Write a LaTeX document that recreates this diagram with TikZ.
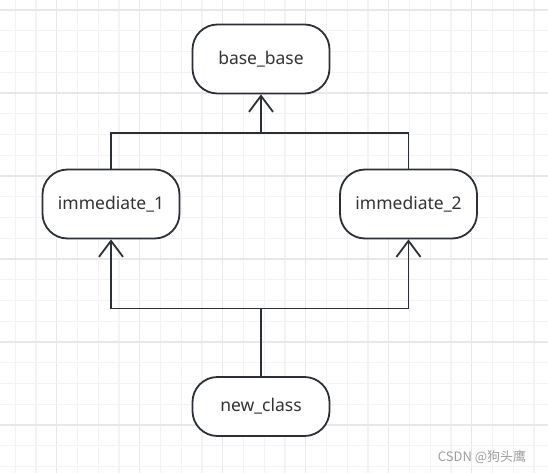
\documentclass[tikz,border=0pt]{standalone}
\usepackage{fontspec}
\setmainfont{Noto Sans}
\newfontfamily\cjkfont{Noto Sans CJK SC}
\usetikzlibrary{arrows.meta}
\definecolor{edgecol}{HTML}{2B3036}
\definecolor{txtcol}{HTML}{333333}
\definecolor{gridminor}{HTML}{F3F3F3}
\definecolor{gridmajor}{HTML}{E8E8E8}
\definecolor{wmcol}{HTML}{9E9E9E}
\tikzset{
  pill/.style={draw=edgecol, line width=1.8pt, fill=white, rounded corners=25pt,
    minimum width=137pt, minimum height=69pt, inner sep=0pt,
    text=txtcol, font=\fontsize{17.5pt}{20pt}\selectfont},
  conn/.style={draw=edgecol, line width=1.8pt},
  arr/.style={conn, -{Straight Barb[length=16pt,width=24pt,line width=1.8pt]}},
  minorline/.style={draw=gridminor, line width=1.1pt},
  majorline/.style={draw=gridmajor, line width=1.5pt},
}
\begin{document}
\begin{tikzpicture}[x=1pt,y=-1pt]
\useasboundingbox (0,0) rectangle (548,473);
\fill[white] (0,0) rectangle (548,473);
% grid
\foreach \k in {-2,...,23} {
  \pgfmathsetmacro{\xx}{56.7+20.75*\k}
  \pgfmathtruncatemacro{\m}{mod(\k+100,4)}
  \ifnum\m=0
    \draw[majorline] (\xx,0) -- (\xx,473);
  \else
    \draw[minorline] (\xx,0) -- (\xx,473);
  \fi
}
\foreach \k in {0,...,22} {
  \pgfmathsetmacro{\yy}{10+20.75*\k}
  \pgfmathtruncatemacro{\m}{mod(\k,4)}
  \ifnum\m=0
    \draw[majorline] (0,\yy) -- (548,\yy);
  \else
    \draw[minorline] (0,\yy) -- (548,\yy);
  \fi
}
% nodes
\node[pill] (base) at (261,59) {base\_base};
\node[pill] (im1) at (111,204) {immediate\_1};
\node[pill] (im2) at (408.5,204) {immediate\_2};
\node[pill, minimum height=59pt] (nc) at (261,406.5) {new\_class};
% junctions
\coordinate (j1) at (261,133);
\coordinate (j2) at (261,308.5);
% connectors
\draw[conn] (im1.north) |- (j1) -| (im2.north);
\draw[arr] (j1) -- (base.south);
\draw[conn] (nc.north) -- (j2);
\draw[arr] (j2) -| (im1.south);
\draw[arr] (j2) -| (im2.south);
% watermark
\node[text=wmcol, font=\cjkfont\fontsize{13pt}{15pt}\selectfont, inner sep=0pt] (wm) at (482,457) {CSDN @狗头鹰};
\end{tikzpicture}
\end{document}
